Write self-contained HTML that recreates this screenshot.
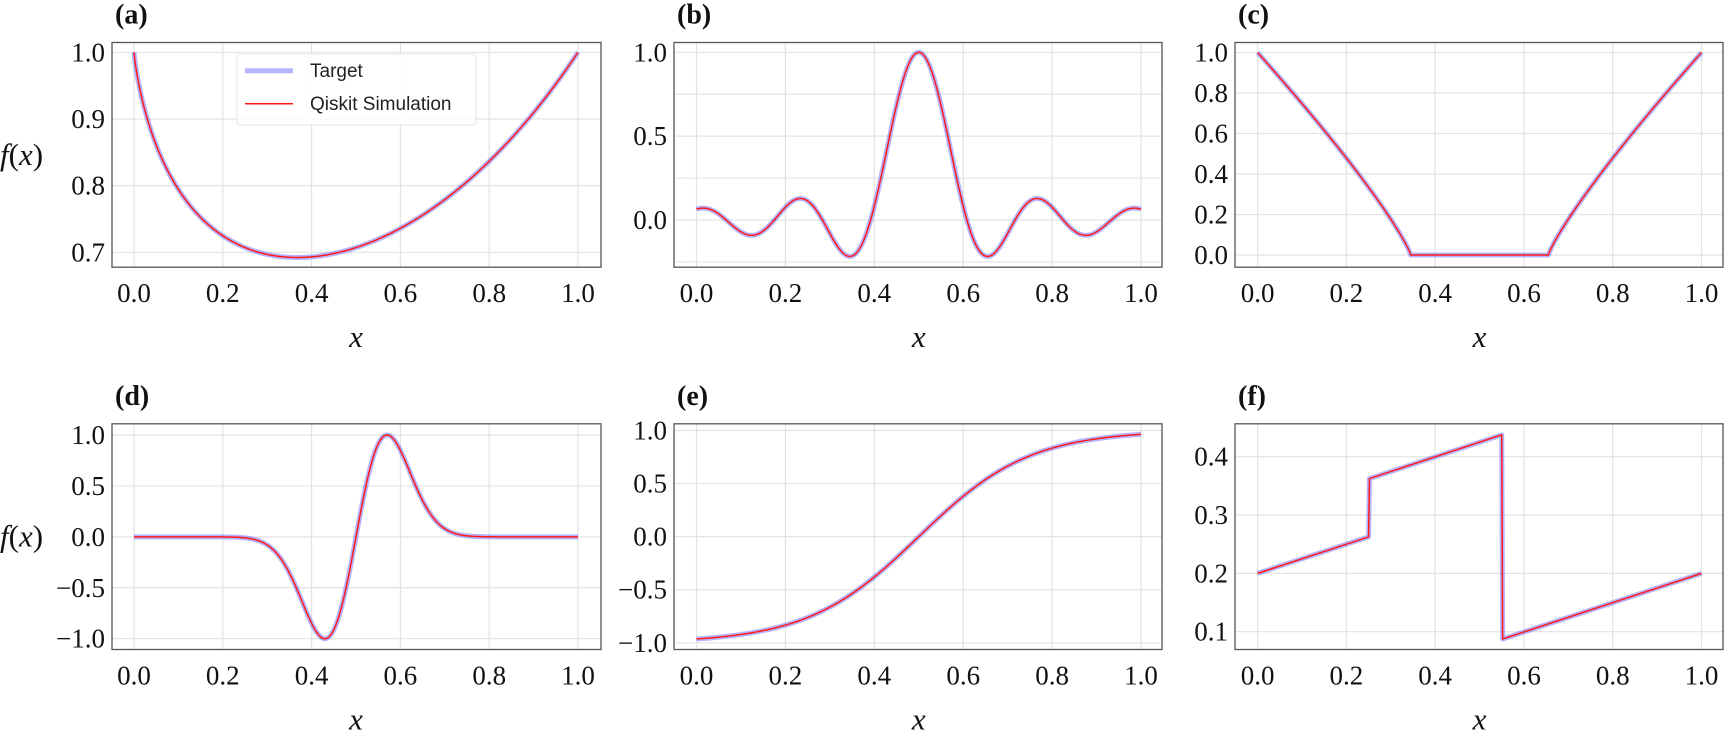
<!DOCTYPE html>
<html><head><meta charset="utf-8"><style>
html,body{margin:0;padding:0;background:#fff;}
svg{display:block;}
.tk{font-family:"Liberation Serif",serif;font-size:27px;fill:#111;}
.lab{font-family:"Liberation Serif",serif;font-size:31px;font-style:italic;fill:#111;}
.ttl{font-family:"Liberation Serif",serif;font-size:28px;font-weight:bold;fill:#111;}
.leg{font-family:"Liberation Sans",sans-serif;font-size:19px;fill:#222;}
</style></head><body>
<svg id="s" width="1725" height="732" viewBox="0 0 1725 732" xmlns="http://www.w3.org/2000/svg"></svg>
<script>
const S=document.getElementById('s');
let out='';
const cols=[{l:112,r:601,x0:134,x1:578},{l:674,r:1162,x0:696.5,x1:1141},{l:1235,r:1723,x0:1257.6,x1:1701.5}];
const rows=[{t:42.5,b:267.2},{t:423.8,b:649.5}];
function sinc(x){const u=29*(x-0.5);return Math.abs(u)<1e-9?1:Math.sin(u)/u;}
const panels=[
 {c:0,r:0,n:'(a)',f:x=>x<=0?1:Math.pow(x,x),ya:[1.0,52.3],yb:[0.7,252.3],ticks:[0.7,0.8,0.9,1.0],grid:[0.7,0.8,0.9,1.0],fmt:1,fx:true},
 {c:1,r:0,n:'(b)',f:sinc,ya:[1.0,52.3],yb:[0,220],ticks:[0,0.5,1.0],grid:[-0.25,0,0.25,0.5,0.75,1.0],fmt:1},
 {c:2,r:0,n:'(c)',f:x=>{if(x<0.345)return Math.pow((0.345-x)/0.345,0.85);if(x>0.655)return Math.pow((x-0.655)/0.345,0.85);return 0;},ya:[1.0,52.5],yb:[0,255],ticks:[0,0.2,0.4,0.6,0.8,1.0],grid:[0,0.2,0.4,0.6,0.8,1.0],fmt:1},
 {c:0,r:1,n:'(d)',f:x=>{const s=0.07,d=x-0.5;return (d/s)*Math.exp(0.5-d*d/(2*s*s));},ya:[1.0,435],yb:[-1.0,638.7],ticks:[-1,-0.5,0,0.5,1],grid:[-1,-0.5,0,0.5,1],fmt:1,fx:true},
 {c:1,r:1,n:'(e)',f:x=>Math.tanh(4*(x-0.5)),ya:[1.0,430.5],yb:[-1.0,642.8],ticks:[-1,-0.5,0,0.5,1],grid:[-1,-0.5,0,0.5,1],fmt:1},
 {c:2,r:1,n:'(f)',f:null,ya:[0.4,456.7],yb:[0.1,631.7],ticks:[0.1,0.2,0.3,0.4],grid:[0.1,0.2,0.3,0.4],fmt:1}
];
function fmt(v){let s=v.toFixed(1);if(s==='-0.0')s='0.0';return s.replace('-','\u2212');}
for(const p of panels){
 const C=cols[p.c],R=rows[p.r];
 const X=x=>C.x0+(C.x1-C.x0)*x;
 const Y=y=>p.ya[1]+(p.yb[1]-p.ya[1])*(y-p.ya[0])/(p.yb[0]-p.ya[0]);
 out+=`<defs><clipPath id="c${p.n[1]}"><rect x="${C.l}" y="${R.t}" width="${C.r-C.l}" height="${R.b-R.t}"/></clipPath></defs>`;
 // grid
 for(let i=0;i<=5;i++){const gx=X(i*0.2);out+=`<line x1="${gx}" y1="${R.t}" x2="${gx}" y2="${R.b}" stroke="#e3e3e3" stroke-width="1.2"/>`;}
 for(const g of p.grid){const gy=Y(g);if(gy>R.t&&gy<R.b)out+=`<line x1="${C.l}" y1="${gy}" x2="${C.r}" y2="${gy}" stroke="#e3e3e3" stroke-width="1.2"/>`;}
 // data
 let d='';
 if(p.f){const N=600;for(let i=0;i<=N;i++){const x=i/N;d+=(i?'L':'M')+X(x).toFixed(2)+' '+Y(p.f(x)).toFixed(2);}}
 else{const pts=[[0,0.2],[0.25,0.2625],[0.252,0.3625],[0.55,0.4375],[0.552,0.0875],[1,0.2]];d=pts.map((q,i)=>(i?'L':'M')+X(q[0]).toFixed(2)+' '+Y(q[1]).toFixed(2)).join('');}
 out+=`<g clip-path="url(#c${p.n[1]})"><path d="${d}" fill="none" stroke="rgba(90,90,255,0.45)" stroke-width="5" stroke-linejoin="round"/><path d="${d}" fill="none" stroke="#ff1a1a" stroke-width="1.5" stroke-linejoin="round"/></g>`;
 out+=`<rect x="${C.l}" y="${R.t}" width="${C.r-C.l}" height="${R.b-R.t}" fill="none" stroke="#555" stroke-width="1.3"/>`;
 // ticks
 for(let i=0;i<=5;i++){const gx=X(i*0.2);out+=`<text class="tk" x="${gx}" y="${R.b+35}" text-anchor="middle">${(i*0.2).toFixed(1)}</text>`;}
 for(const t of p.ticks){out+=`<text class="tk" x="${C.l-7}" y="${Y(t)+9}" text-anchor="end">${fmt(t)}</text>`;}
 out+=`<text class="lab" x="${(C.x0+C.x1)/2}" y="${R.b+80}" text-anchor="middle">x</text>`;
 out+=`<text class="ttl" x="${C.l+3}" y="${R.t-19}">${p.n}</text>`;
 if(p.fx){out+=`<text class="lab" x="0" y="${(R.t+R.b)/2+10}">f<tspan font-style="normal">(</tspan>x<tspan font-style="normal">)</tspan></text>`;}
}
// legend
out+=`<rect x="237" y="54" width="239" height="71" rx="3" fill="#fff" fill-opacity="0.85" stroke="#e6e6e6"/>`;
out+=`<line x1="245" y1="70.7" x2="293" y2="70.7" stroke="rgba(90,90,255,0.45)" stroke-width="5"/>`;
out+=`<line x1="245" y1="103.7" x2="293" y2="103.7" stroke="#ff1a1a" stroke-width="1.5"/>`;
out+=`<text class="leg" x="310" y="77">Target</text>`;
out+=`<text class="leg" x="310" y="110">Qiskit Simulation</text>`;
S.innerHTML=out;
</script>
</body></html>
